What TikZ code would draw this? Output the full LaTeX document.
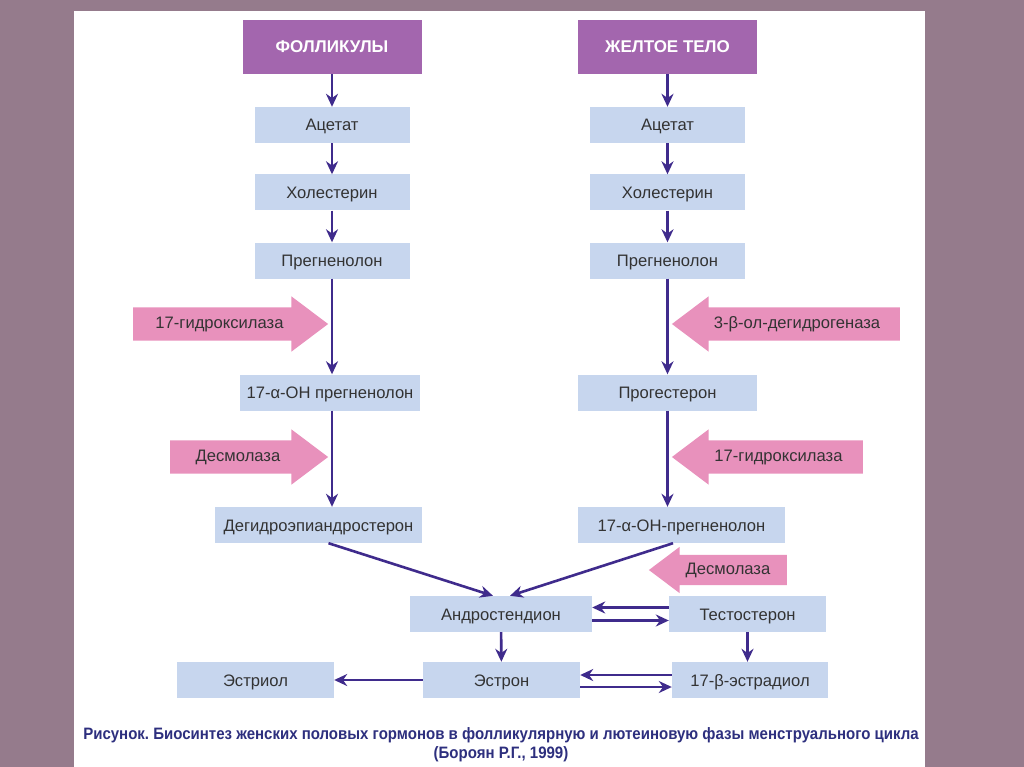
\documentclass[tikz,border=0pt]{standalone}
\usepackage{fontspec}
\setmainfont{Liberation Sans}
\newfontfamily\capfont[FakeStretch=0.91]{Liberation Sans}
\usepackage{xcolor}
\usetikzlibrary{arrows.meta,shapes.arrows}
\definecolor{bgmauve}{HTML}{957B8C}
\definecolor{hdpurple}{HTML}{A366AE}
\definecolor{boxblue}{HTML}{C7D6EE}
\definecolor{enzpink}{HTML}{E891BC}
\definecolor{flowcol}{HTML}{3F2B8C}
\definecolor{txtgray}{HTML}{333333}
\definecolor{capblue}{HTML}{2D2F7E}
\frenchspacing

\begin{document}
\begin{tikzpicture}[x=1pt,y=-1pt,
  organ/.style={fill=hdpurple, text=white, font=\fontsize{17}{20}\selectfont\bfseries,
    minimum width=179pt, minimum height=54pt, inner sep=0pt},
  chem/.style={fill=boxblue, text=txtgray, font=\fontsize{16.6}{20}\selectfont,
    text height=13pt, text depth=1pt, minimum height=36pt, inner sep=0pt},
  enzyme/.style={single arrow, fill=enzpink, text=txtgray, font=\fontsize{16.6}{20}\selectfont,
    text height=11.5pt, text depth=3.5pt, inner xsep=0pt, inner ysep=9pt,
    single arrow head extend=11pt, single arrow tip angle=74},
  flow/.style={draw=flowcol, line width=2.6pt, -{Stealth[length=13pt,width=12pt]}}
]
\fill[bgmauve] (0,0) rectangle (1024,767);
\fill[white] (74,11) rectangle (925,767);

\node[organ] (foll) at (332,47) {ФОЛЛИКУЛЫ};
\node[organ] (lut) at (667.5,47) {ЖЕЛТОЕ ТЕЛО};

\node[chem, minimum width=155pt] (acetF) at (332,125) {Ацетат};
\node[chem, minimum width=155pt] (cholF) at (332,192.5) {Холестерин};
\node[chem, minimum width=155pt] (pregF) at (332,260.5) {Прегненолон};
\node[chem, minimum width=180pt] (ohpregF) at (330,392.5) {17-α-ОН прегненолон};
\node[chem, minimum width=207pt] (dhea) at (318.5,525) {Дегидроэпиандростерон};

\node[chem, minimum width=155pt] (acetL) at (667.5,125) {Ацетат};
\node[chem, minimum width=155pt] (cholL) at (667.5,192.5) {Холестерин};
\node[chem, minimum width=155pt] (pregL) at (667.5,260.5) {Прегненолон};
\node[chem, minimum width=179pt] (prog) at (667.5,392.5) {Прогестерон};
\node[chem, minimum width=207pt] (ohpregL) at (681.5,525) {17-α-ОН-прегненолон};

\node[chem, minimum width=182pt] (andr) at (501,614) {Андростендион};
\node[chem, minimum width=157pt] (test) at (747.5,614) {Тестостерон};
\node[chem, minimum width=157pt] (estriol) at (255.5,680) {Эстриол};
\node[chem, minimum width=157pt] (estron) at (501.5,680) {Эстрон};
\node[chem, minimum width=156pt] (estrad) at (750,680) {17-β-эстрадиол};

\node[enzyme, minimum height=195pt] (hydrF) at (219.5,324) {17-гидроксилаза};
\node[enzyme, minimum height=158pt] (desmF) at (238,457) {Десмолаза};
\node[enzyme, shape border rotate=180, minimum height=228pt] (hsd) at (797,324) {3-β-ол-дегидрогеназа};
\node[enzyme, shape border rotate=180, minimum height=191pt] (hydrL) at (778.5,457) {17-гидроксилаза};
\node[enzyme, shape border rotate=180, minimum height=138pt, inner ysep=7.5pt,
  single arrow head extend=8pt] (desmL) at (728,570) {Десмолаза};

\node[font=\capfont\bfseries\fontsize{16.5}{19.5}\selectfont, text=capblue, align=center]
  (caption) at (501,744.5) {Рисунок. Биосинтез женских половых гормонов в фолликулярную и лютеиновую фазы менструального цикла\\(Бороян Р.Г., 1999)};

\draw[flow] (foll) -- (acetF);
\draw[flow] (acetF) -- (cholF);
\draw[flow] (cholF) -- (pregF);
\draw[flow] (pregF) -- (pregF |- ohpregF.north);
\draw[flow] (ohpregF.south -| pregF) -- (pregF |- dhea.north);

\draw[flow] (lut) -- (acetL);
\draw[flow] (acetL) -- (cholL);
\draw[flow] (cholL) -- (pregL);
\draw[flow] (pregL) -- (prog);
\draw[flow] (prog) -- (prog |- ohpregL.north);

\draw[flow] ([xshift=10pt]dhea.south) -- ([xshift=-8pt]andr.north);
\draw[flow] ([xshift=-8.5pt]ohpregL.south) -- ([xshift=9pt]andr.north);
\draw[flow] ([yshift=6.5pt]test.west) -- ([yshift=6.5pt]andr.east);
\draw[flow] ([yshift=-6.5pt]andr.east) -- ([yshift=-6.5pt]test.west);
\draw[flow] (andr) -- (estron);
\draw[flow] (test) -- (test |- estrad.north);
\draw[flow] ([yshift=5pt]estrad.west) -- ([yshift=5pt]estron.east);
\draw[flow] ([yshift=-7pt]estron.east) -- ([yshift=-7pt]estrad.west);
\draw[flow] (estron) -- (estriol);
\end{tikzpicture}
\end{document}
